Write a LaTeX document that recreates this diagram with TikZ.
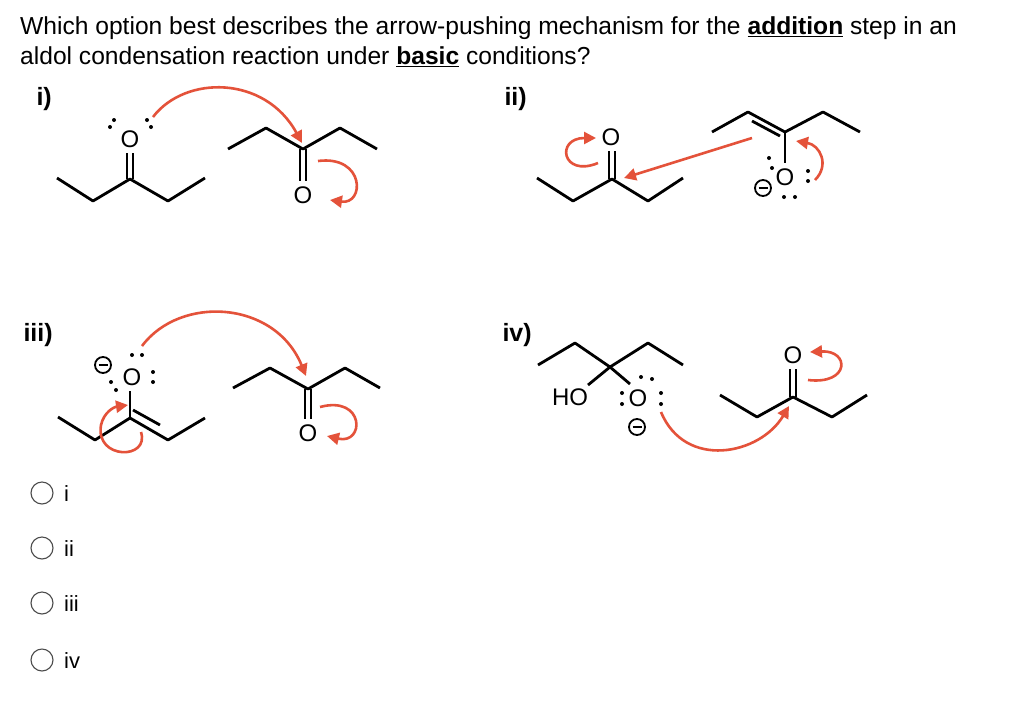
\documentclass[tikz,border=0pt]{standalone}
\usepackage{fontspec}
\setmainfont{Liberation Sans}
\usetikzlibrary{arrows.meta}
\definecolor{arr}{RGB}{228,82,58}
\begin{document}
\begin{tikzpicture}[x=1pt,y=-1pt,
  bond/.style={line width=2.8pt,line join=round},
  atom/.style={font=\fontsize{24}{24}\selectfont,inner sep=1pt},
  lbl/.style={font=\fontsize{25}{25}\selectfont\bfseries,anchor=west},
  ptxt/.style={font=\fontsize{24.6}{29}\selectfont,anchor=west,inner sep=0pt},
  opt/.style={font=\fontsize{22}{22}\selectfont,anchor=west,inner sep=0pt},
  red/.style={draw=arr,line width=2.6pt,-{Triangle[length=12pt,width=12pt]}},
  dot/.style={fill=black,circle,inner sep=0pt,minimum size=4pt},
  radio/.style={draw=black!70,circle,line width=1.1pt,minimum size=22pt,inner sep=0pt}]
\useasboundingbox (0,0) rectangle (1020,702);
\fill[white] (0,0) rectangle (1020,702);
\node[ptxt] (t1) at (20,28) {Which option best describes the arrow-pushing mechanism for the \textbf{\underline{addition}} step in an};
\node[ptxt] (t2) at (20,57) {aldol condensation reaction under \textbf{\underline{basic}} conditions?};
\newcommand\mnus[1]{\draw[line width=1.8pt] (#1) circle (8pt); \draw[line width=1.8pt] ([xshift=-4.5pt]#1) -- ([xshift=4.5pt]#1);}
% ===== i
\node[lbl] (li) at (33,99) {i)};
\draw[bond] (57,178) -- (93,201) -- (130,179) -- (168,201) -- (205,178);
\node[atom] (o1) at (130,139) {O};
\draw[bond] (127,179) -- (127,153) (133,179) -- (133,153);
\node[dot] (d1) at (110,127) {}; \node[dot] (d2) at (114,120) {};
\node[dot] (d3) at (147,120) {}; \node[dot] (d4) at (151,127) {};
\draw[bond] (228,149) -- (266,128) -- (303,149) -- (340,128) -- (377,149);
\node[atom] (o2) at (303,195) {O};
\draw[bond] (300,149) -- (300,181) (306,149) -- (306,181);
\draw[red] (153,117) .. controls (185,75) and (265,75) .. (302,143);
\draw[red] (318,161) .. controls (365,155) and (365,205) .. (330,200);
% ===== ii
\node[lbl] (lii) at (501,99) {ii)};
\draw[bond] (537,178) -- (573,201) -- (612,179) -- (648,201) -- (683,178);
\node[atom] (o3) at (611,137) {O};
\draw[bond] (609,179) -- (609,151) (615,179) -- (615,151);
\draw[red] (598,163) .. controls (562,178) and (555,138) .. (596,138);
\draw[bond] (712,132) -- (748,112) -- (785,132) -- (823,112) -- (860,132);
\draw[bond] (752,121) -- (780,136);
\draw[bond] (785,132) -- (785,163);
\node[atom] (o4) at (785,177) {O};
\node[dot] (d5) at (769,158) {}; \node[dot] (d6) at (772,168) {};
\node[dot] (d7) at (808,171) {}; \node[dot] (d8) at (808,181) {};
\node[dot] (d9) at (784,197) {}; \node[dot] (d10) at (795,197) {};
\coordinate (m1) at (763,188);
\mnus{m1}
\draw[red] (752,138) -- (624,178);
\draw[red] (815,180) .. controls (830,165) and (820,145) .. (796,141);
% ===== iii
\node[lbl] (liii) at (20,335) {iii)};
\draw[bond] (58,417) -- (95,440) -- (130,418) -- (168,440) -- (205,418);
\draw[bond] (133,410) -- (160,425);
\draw[bond] (130,418) -- (130,391);
\node[atom] (o5) at (132,377) {O};
\coordinate (m2) at (103,365);
\mnus{m2}
\node[dot] (d11) at (132,355) {}; \node[dot] (d12) at (142,355) {};
\node[dot] (d13) at (153,372) {}; \node[dot] (d14) at (153,382) {};
\node[dot] (d15) at (111,382) {}; \node[dot] (d16) at (116,390) {};
\draw[red] (141,432) .. controls (150,460) and (95,460) .. (101,425) .. controls (104,412) and (114,407) .. (128,405);
\draw[red] (142,346) .. controls (180,295) and (275,300) .. (306,376);
\draw[bond] (233,388) -- (270,368) -- (308,389) -- (345,368) -- (380,388);
\node[atom] (o6) at (308,433) {O};
\draw[bond] (305,389) -- (305,419) (311,389) -- (311,419);
\draw[red] (320,407) .. controls (365,395) and (365,445) .. (327,436);
% ===== iv
\node[lbl] (liv) at (499,335) {iv)};
\draw[bond] (538,365) -- (575,343) -- (610,367) -- (648,343) -- (683,365);
\draw[bond] (610,367) -- (588,385);
\node[atom] (ho) at (570,397) {HO};
\draw[bond] (610,367) -- (630,384);
\node[atom] (o7) at (638,398) {O};
\node[dot] (d17) at (641,377) {}; \node[dot] (d18) at (652,379) {};
\node[dot] (d19) at (622,393) {}; \node[dot] (d20) at (622,404) {};
\node[dot] (d21) at (661,393) {}; \node[dot] (d22) at (661,404) {};
\coordinate (m3) at (637,427);
\mnus{m3}
\draw[bond] (720,395) -- (757,417) -- (793,397) -- (832,417) -- (867,395);
\node[atom] (o8) at (793,355) {O};
\draw[bond] (790,397) -- (790,369) (796,397) -- (796,369);
\draw[red] (808,380) .. controls (850,385) and (850,350) .. (810,352);
\draw[red] (661,412) .. controls (685,470) and (760,455) .. (789,406);
% ===== options
\foreach \y/\t [count=\i] in {493/i,548/ii,603/iii,660/iv} {
  \node[radio] (r\i) at (42,\y) {};
  \node[opt] (ot\i) at (64,\y+1) {\t};
}
\end{tikzpicture}
\end{document}
